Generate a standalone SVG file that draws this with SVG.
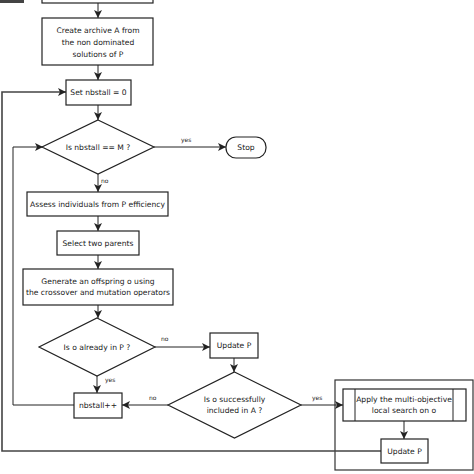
<svg xmlns="http://www.w3.org/2000/svg" width="474" height="474" viewBox="0 0 474 474">
<style>
.b{fill:#fff;stroke:#222;stroke-width:1.2}
.c{fill:none;stroke:#222;stroke-width:1}
.t{font-family:"DejaVu Sans",sans-serif;font-size:7.6px;fill:#1a1a1a;text-anchor:middle}
.s{font-family:"DejaVu Sans",sans-serif;font-size:6px;fill:#222}
</style>
<defs>
<marker id="a" markerWidth="9" markerHeight="8" refX="8" refY="4" orient="auto" markerUnits="userSpaceOnUse">
<path d="M0,0 L8,4 L0,8 L2,4 z" fill="#222"/>
</marker>
</defs>
<rect width="474" height="474" fill="#fff"/>
<rect x="0" y="0" width="24" height="3" fill="#444"/>
<rect x="335" y="380" width="138" height="90" fill="none" stroke="#333" stroke-width="1.2"/>
<g id="connectors">
<line class="c" x1="98" y1="3" x2="98" y2="18" marker-end="url(#a)"/>
<line class="c" x1="98" y1="65" x2="98" y2="80" marker-end="url(#a)"/>
<line class="c" x1="98" y1="105" x2="98" y2="120" marker-end="url(#a)"/>
<line class="c" x1="154" y1="147" x2="226" y2="147" marker-end="url(#a)"/>
<line class="c" x1="98" y1="174" x2="98" y2="192" marker-end="url(#a)"/>
<line class="c" x1="98" y1="216" x2="98" y2="231" marker-end="url(#a)"/>
<line class="c" x1="98" y1="255" x2="98" y2="269" marker-end="url(#a)"/>
<line class="c" x1="98" y1="305" x2="98" y2="318" marker-end="url(#a)"/>
<line class="c" x1="155" y1="347" x2="210" y2="347" marker-end="url(#a)"/>
<line class="c" x1="97" y1="376" x2="97" y2="393" marker-end="url(#a)"/>
<line class="c" x1="234" y1="358" x2="234" y2="372" marker-end="url(#a)"/>
<line class="c" x1="168" y1="405" x2="122" y2="405" marker-end="url(#a)"/>
<line class="c" x1="301" y1="405" x2="343" y2="405" marker-end="url(#a)"/>
<line class="c" x1="404" y1="421" x2="404" y2="439" marker-end="url(#a)"/>
<polyline class="c" points="74,405 13,405 13,147 43,147" marker-end="url(#a)"/>
<polyline points="381,451 2,451 2,92 66,92" fill="none" stroke="#444" stroke-width="1.6" marker-end="url(#a)"/>
<text class="s" x="181" y="142">yes</text>
<text class="s" x="101" y="183">no</text>
<text class="s" x="161" y="341">no</text>
<text class="s" x="105" y="382">yes</text>
<text class="s" x="149" y="400">no</text>
<text class="s" x="312" y="400">yes</text>
</g>
<g id="top"><rect class="b" x="42" y="-10" width="111" height="13"/></g>
<g id="create"><rect class="b" x="42" y="18" width="111" height="47"/>
<text class="t" x="98" y="33">Create archive A from</text>
<text class="t" x="98" y="45">the non dominated</text>
<text class="t" x="98" y="57">solutions of P</text></g>
<g id="set"><rect class="b" x="66" y="80" width="65" height="25"/>
<text class="t" x="98.5" y="95">Set nbstall = 0</text></g>
<g id="d1"><polygon class="b" points="98,120 154,147 98,174 42,147"/>
<text class="t" x="98" y="150">Is nbstall == M ?</text></g>
<g id="stop"><rect class="b" x="226" y="137" width="40" height="21" rx="10"/>
<text class="t" x="246" y="150">Stop</text></g>
<g id="assess"><rect class="b" x="27" y="192" width="141" height="24"/>
<text class="t" x="97.5" y="206.5">Assess individuals from P efficiency</text></g>
<g id="select"><rect class="b" x="57" y="231" width="82" height="24"/>
<text class="t" x="98" y="245.5">Select two parents</text></g>
<g id="gen"><rect class="b" x="23" y="269" width="150" height="36"/>
<text class="t" x="98" y="284">Generate an offspring o using</text>
<text class="t" x="98" y="295">the crossover and mutation operators</text></g>
<g id="d2"><polygon class="b" points="97,318 155,347 97,376 39,347"/>
<text class="t" x="97" y="350">Is o already in P ?</text></g>
<g id="upd1"><rect class="b" x="210" y="333" width="48" height="25"/>
<text class="t" x="234" y="348">Update P</text></g>
<g id="nb"><rect class="b" x="74" y="393" width="48" height="25"/>
<text class="t" x="98" y="408">nbstall++</text></g>
<g id="d3"><polygon class="b" points="234.5,372 301,405 234.5,438 168,405"/>
<text class="t" x="234.5" y="402">Is o successfully</text>
<text class="t" x="234.5" y="413">included in A ?</text></g>
<g id="ls"><rect class="b" x="343" y="389" width="123" height="32"/>
<line class="c" x1="355" y1="389" x2="355" y2="421"/>
<line class="c" x1="453" y1="389" x2="453" y2="421"/>
<text class="t" x="404" y="402">Apply the multi-objective</text>
<text class="t" x="404" y="413">local search on o</text></g>
<g id="upd2"><rect class="b" x="381" y="439" width="47" height="24"/>
<text class="t" x="404.5" y="454">Update P</text></g>
</svg>
